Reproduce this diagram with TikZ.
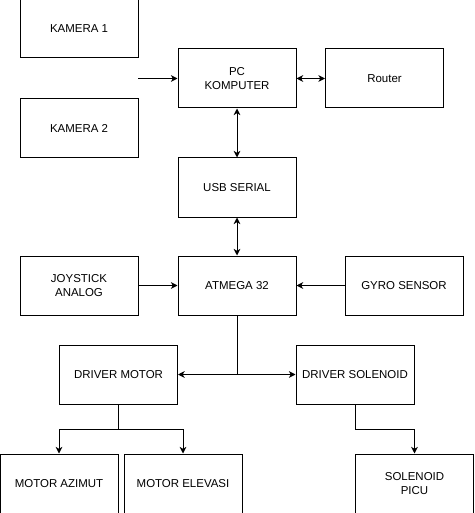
\documentclass[tikz,border=0pt]{standalone}
\usepackage{fontspec}
\setmainfont{Liberation Sans}
\usetikzlibrary{arrows.meta}

\begin{document}
\begin{tikzpicture}[x=0.75pt, y=-0.75pt]
    \tikzset{%
        block/.style={draw, line width=0.75pt, minimum width=88.5pt, minimum height=44.25pt,
                inner sep=0pt, align=center, font=\fontsize{8.6pt}{10.5pt}\selectfont},
        link/.style={line width=0.75pt, -{Stealth[length=5pt, width=5pt, inset=1.5pt]}},
        duplex/.style={line width=0.75pt, {Stealth[length=5pt, width=5pt, inset=1.5pt]}-{Stealth[length=5pt, width=5pt, inset=1.5pt]}}
    }

    \useasboundingbox (0, 0) rectangle (474, 513);
    \clip (0, 0) rectangle (474, 513);

    % cameras, pc, router
    \node[block] (cam1) at (79, 28.5) {KAMERA 1};
    \node[block] (cam2) at (79, 128) {KAMERA 2};
    \node[block] (pc) at (237, 78.5) {PC\\KOMPUTER};
    \node[block] (router) at (384.5, 78.5) {Router};
    \node[block] (usb) at (237, 187.5) {USB SERIAL};

    % controller row
    \node[block] (joy) at (79, 285.5) {JOYSTICK\\ANALOG};
    \node[block] (atmega) at (237, 285.5) {ATMEGA 32};
    \node[block] (gyro) at (404, 285.5) {GYRO SENSOR};

    % drivers and actuators
    \node[block] (drvmotor) at (118.5, 374.5) {DRIVER MOTOR};
    \node[block] (drvsol) at (355, 374.5) {DRIVER SOLENOID};
    \node[block] (azimut) at (59, 483.5) {MOTOR AZIMUT};
    \node[block] (elevasi) at (183, 483.5) {MOTOR ELEVASI};
    \node[block] (picu) at (414.5, 483.5) {SOLENOID\\PICU};

    \coordinate (camjoin) at (138, 78.5);
    \draw[link] (camjoin) -- (pc.west);
    \draw[duplex] (pc.east) -- (router.west);
    \draw[duplex] (pc.south) -- (usb.north);
    \draw[duplex] (usb.south) -- (atmega.north);
    \draw[link] (joy.east) -- (atmega.west);
    \draw[link] (gyro.west) -- (atmega.east);

    \draw[link] (atmega.south) |- (drvmotor.east);
    \draw[link] (atmega.south) |- (drvsol.west);
    \draw[link] (drvmotor.south) -- ++(0, 25) -| (azimut.north);
    \draw[link] (drvmotor.south) -- ++(0, 25) -| (elevasi.north);
    \draw[link] (drvsol.south) -- ++(0, 25) -| (picu.north);
\end{tikzpicture}
\end{document}
